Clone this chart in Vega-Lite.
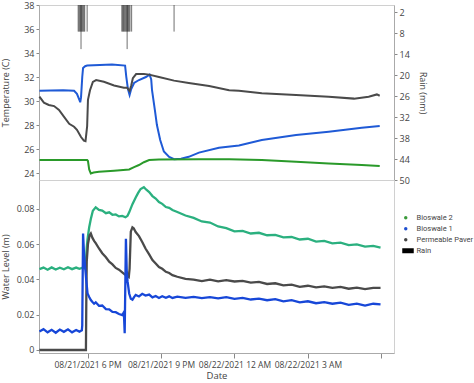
{
"$schema": "https://vega.github.io/schema/vega-lite/v6.json",
"padding": {"left": 0, "top": 0, "right": 0, "bottom": 0},
"background": "white",
"spacing": 0,
"bounds": "flush",
"config": {
  "font": "Open Sans",
  "view": {"stroke": "#d0d0d0"},
  "axis": {"labelFontSize": 9, "labelColor": "#444", "titleFontSize": 9, "titleFontWeight": "normal", "titleColor": "#444", "domainColor": "#aaa", "tickColor": "#888", "grid": false, "tickSize": 3, "labelPadding": 2}
},
"datasets": {
"rain": [
{"t":"2021-08-21T17:37","r":7.6},{"t":"2021-08-21T17:39","r":7.6},{"t":"2021-08-21T17:41","r":7.6},{"t":"2021-08-21T17:43","r":7.6},{"t":"2021-08-21T17:44","r":12.6},{"t":"2021-08-21T17:45","r":7.6},{"t":"2021-08-21T17:47","r":7.6},{"t":"2021-08-21T17:49","r":7.6},{"t":"2021-08-21T17:51","r":7.6},{"t":"2021-08-21T17:53","r":7.6},{"t":"2021-08-21T17:59","r":7.6},
{"t":"2021-08-21T19:24","r":7.6},{"t":"2021-08-21T19:26","r":7.6},{"t":"2021-08-21T19:28","r":7.6},{"t":"2021-08-21T19:30","r":7.6},{"t":"2021-08-21T19:32","r":7.6},{"t":"2021-08-21T19:34","r":7.6},{"t":"2021-08-21T19:36","r":7.6},{"t":"2021-08-21T19:37","r":12.6},{"t":"2021-08-21T19:38","r":7.6},{"t":"2021-08-21T19:40","r":7.6},{"t":"2021-08-21T19:42","r":7.6},{"t":"2021-08-21T19:44","r":7.6},{"t":"2021-08-21T19:48","r":7.6},
{"t":"2021-08-21T21:32","r":7.6}
],
"temp": [
{"t":"2021-08-21T16:02","s":"Bioswale 1","T":30.85},{"t":"2021-08-21T16:30","s":"Bioswale 1","T":30.88},{"t":"2021-08-21T17:00","s":"Bioswale 1","T":30.9},{"t":"2021-08-21T17:27","s":"Bioswale 1","T":30.85},{"t":"2021-08-21T17:34","s":"Bioswale 1","T":30.6},{"t":"2021-08-21T17:40","s":"Bioswale 1","T":30.1},{"t":"2021-08-21T17:42","s":"Bioswale 1","T":29.9},{"t":"2021-08-21T17:44","s":"Bioswale 1","T":30.3},{"t":"2021-08-21T17:47","s":"Bioswale 1","T":32.0},{"t":"2021-08-21T17:49","s":"Bioswale 1","T":32.75},{"t":"2021-08-21T17:54","s":"Bioswale 1","T":32.9},{"t":"2021-08-21T17:59","s":"Bioswale 1","T":32.95},{"t":"2021-08-21T18:30","s":"Bioswale 1","T":33.0},{"t":"2021-08-21T19:00","s":"Bioswale 1","T":33.05},{"t":"2021-08-21T19:32","s":"Bioswale 1","T":32.95},{"t":"2021-08-21T19:35","s":"Bioswale 1","T":32.0},{"t":"2021-08-21T19:39","s":"Bioswale 1","T":31.0},{"t":"2021-08-21T19:43","s":"Bioswale 1","T":30.5},{"t":"2021-08-21T19:47","s":"Bioswale 1","T":31.0},{"t":"2021-08-21T19:54","s":"Bioswale 1","T":31.5},{"t":"2021-08-21T20:06","s":"Bioswale 1","T":31.75},{"t":"2021-08-21T20:23","s":"Bioswale 1","T":32.0},{"t":"2021-08-21T20:32","s":"Bioswale 1","T":32.2},{"t":"2021-08-21T20:36","s":"Bioswale 1","T":31.8},{"t":"2021-08-21T20:38","s":"Bioswale 1","T":30.9},{"t":"2021-08-21T20:45","s":"Bioswale 1","T":29.25},{"t":"2021-08-21T20:50","s":"Bioswale 1","T":28.0},{"t":"2021-08-21T20:58","s":"Bioswale 1","T":26.75},{"t":"2021-08-21T21:07","s":"Bioswale 1","T":25.8},{"t":"2021-08-21T21:20","s":"Bioswale 1","T":25.35},{"t":"2021-08-21T21:32","s":"Bioswale 1","T":25.15},{"t":"2021-08-21T21:49","s":"Bioswale 1","T":25.2},{"t":"2021-08-21T22:08","s":"Bioswale 1","T":25.35},{"t":"2021-08-21T22:33","s":"Bioswale 1","T":25.7},{"t":"2021-08-21T23:22","s":"Bioswale 1","T":26.1},{"t":"2021-08-22T00:11","s":"Bioswale 1","T":26.3},{"t":"2021-08-22T01:07","s":"Bioswale 1","T":26.75},{"t":"2021-08-22T02:31","s":"Bioswale 1","T":27.17},{"t":"2021-08-22T03:51","s":"Bioswale 1","T":27.44},{"t":"2021-08-22T05:12","s":"Bioswale 1","T":27.77},{"t":"2021-08-22T05:56","s":"Bioswale 1","T":27.92},
{"t":"2021-08-21T16:02","s":"Permeable Paver","T":30.36},{"t":"2021-08-21T16:13","s":"Permeable Paver","T":29.86},{"t":"2021-08-21T16:25","s":"Permeable Paver","T":29.67},{"t":"2021-08-21T16:38","s":"Permeable Paver","T":29.58},{"t":"2021-08-21T16:50","s":"Permeable Paver","T":29.25},{"t":"2021-08-21T17:02","s":"Permeable Paver","T":28.7},{"t":"2021-08-21T17:15","s":"Permeable Paver","T":28.1},{"t":"2021-08-21T17:27","s":"Permeable Paver","T":27.86},{"t":"2021-08-21T17:34","s":"Permeable Paver","T":27.6},{"t":"2021-08-21T17:44","s":"Permeable Paver","T":27.0},{"t":"2021-08-21T17:51","s":"Permeable Paver","T":26.7},{"t":"2021-08-21T17:55","s":"Permeable Paver","T":26.65},{"t":"2021-08-21T17:59","s":"Permeable Paver","T":27.9},{"t":"2021-08-21T18:01","s":"Permeable Paver","T":30.1},{"t":"2021-08-21T18:06","s":"Permeable Paver","T":30.9},{"t":"2021-08-21T18:13","s":"Permeable Paver","T":31.6},{"t":"2021-08-21T18:21","s":"Permeable Paver","T":31.75},{"t":"2021-08-21T18:40","s":"Permeable Paver","T":31.6},{"t":"2021-08-21T19:05","s":"Permeable Paver","T":31.3},{"t":"2021-08-21T19:29","s":"Permeable Paver","T":31.1},{"t":"2021-08-21T19:37","s":"Permeable Paver","T":31.1},{"t":"2021-08-21T19:43","s":"Permeable Paver","T":30.85},{"t":"2021-08-21T19:47","s":"Permeable Paver","T":31.3},{"t":"2021-08-21T19:51","s":"Permeable Paver","T":31.9},{"t":"2021-08-21T19:59","s":"Permeable Paver","T":32.25},{"t":"2021-08-21T20:18","s":"Permeable Paver","T":32.25},{"t":"2021-08-21T20:31","s":"Permeable Paver","T":32.2},{"t":"2021-08-21T20:55","s":"Permeable Paver","T":32.0},{"t":"2021-08-21T21:32","s":"Permeable Paver","T":31.7},{"t":"2021-08-21T22:08","s":"Permeable Paver","T":31.5},{"t":"2021-08-21T22:58","s":"Permeable Paver","T":31.25},{"t":"2021-08-21T23:47","s":"Permeable Paver","T":30.9},{"t":"2021-08-22T00:11","s":"Permeable Paver","T":30.86},{"t":"2021-08-22T01:07","s":"Permeable Paver","T":30.64},{"t":"2021-08-22T02:31","s":"Permeable Paver","T":30.5},{"t":"2021-08-22T03:51","s":"Permeable Paver","T":30.36},{"t":"2021-08-22T04:53","s":"Permeable Paver","T":30.2},{"t":"2021-08-22T05:29","s":"Permeable Paver","T":30.36},{"t":"2021-08-22T05:49","s":"Permeable Paver","T":30.55},{"t":"2021-08-22T05:56","s":"Permeable Paver","T":30.44},
{"t":"2021-08-21T16:02","s":"Bioswale 2","T":25.08},{"t":"2021-08-21T17:59","s":"Bioswale 2","T":25.08},{"t":"2021-08-21T18:01","s":"Bioswale 2","T":25.0},{"t":"2021-08-21T18:04","s":"Bioswale 2","T":24.3},{"t":"2021-08-21T18:08","s":"Bioswale 2","T":23.97},{"t":"2021-08-21T18:15","s":"Bioswale 2","T":24.05},{"t":"2021-08-21T18:28","s":"Bioswale 2","T":24.1},{"t":"2021-08-21T19:05","s":"Bioswale 2","T":24.2},{"t":"2021-08-21T19:42","s":"Bioswale 2","T":24.3},{"t":"2021-08-21T19:54","s":"Bioswale 2","T":24.5},{"t":"2021-08-21T20:06","s":"Bioswale 2","T":24.67},{"t":"2021-08-21T20:18","s":"Bioswale 2","T":24.9},{"t":"2021-08-21T20:31","s":"Bioswale 2","T":25.08},{"t":"2021-08-21T20:55","s":"Bioswale 2","T":25.12},{"t":"2021-08-21T22:33","s":"Bioswale 2","T":25.15},{"t":"2021-08-21T23:47","s":"Bioswale 2","T":25.15},{"t":"2021-08-22T01:07","s":"Bioswale 2","T":25.08},{"t":"2021-08-22T02:31","s":"Bioswale 2","T":24.95},{"t":"2021-08-22T03:51","s":"Bioswale 2","T":24.8},{"t":"2021-08-22T05:12","s":"Bioswale 2","T":24.67},{"t":"2021-08-22T05:56","s":"Bioswale 2","T":24.58}
],
"wl": [
{"t":"2021-08-21T16:02","s":"Bioswale 2","W":0.0458},{"t":"2021-08-21T16:12","s":"Bioswale 2","W":0.0467},{"t":"2021-08-21T16:22","s":"Bioswale 2","W":0.0455},{"t":"2021-08-21T16:32","s":"Bioswale 2","W":0.0468},{"t":"2021-08-21T16:42","s":"Bioswale 2","W":0.0456},{"t":"2021-08-21T16:52","s":"Bioswale 2","W":0.0466},{"t":"2021-08-21T17:02","s":"Bioswale 2","W":0.0457},{"t":"2021-08-21T17:12","s":"Bioswale 2","W":0.0469},{"t":"2021-08-21T17:22","s":"Bioswale 2","W":0.0458},{"t":"2021-08-21T17:32","s":"Bioswale 2","W":0.0467},{"t":"2021-08-21T17:40","s":"Bioswale 2","W":0.046},{"t":"2021-08-21T17:48","s":"Bioswale 2","W":0.0466},{"t":"2021-08-21T17:54","s":"Bioswale 2","W":0.0462},{"t":"2021-08-21T17:56","s":"Bioswale 2","W":0.05},{"t":"2021-08-21T17:58","s":"Bioswale 2","W":0.058},{"t":"2021-08-21T18:00","s":"Bioswale 2","W":0.063},{"t":"2021-08-21T18:04","s":"Bioswale 2","W":0.0695},{"t":"2021-08-21T18:08","s":"Bioswale 2","W":0.0742},{"t":"2021-08-21T18:13","s":"Bioswale 2","W":0.0789},{"t":"2021-08-21T18:20","s":"Bioswale 2","W":0.0808},{"t":"2021-08-21T18:28","s":"Bioswale 2","W":0.0794},{"t":"2021-08-21T18:36","s":"Bioswale 2","W":0.079},{"t":"2021-08-21T18:45","s":"Bioswale 2","W":0.0775},{"t":"2021-08-21T18:53","s":"Bioswale 2","W":0.078},{"t":"2021-08-21T19:01","s":"Bioswale 2","W":0.0766},{"t":"2021-08-21T19:09","s":"Bioswale 2","W":0.0768},{"t":"2021-08-21T19:17","s":"Bioswale 2","W":0.0757},{"t":"2021-08-21T19:25","s":"Bioswale 2","W":0.076},{"t":"2021-08-21T19:33","s":"Bioswale 2","W":0.0752},{"t":"2021-08-21T19:38","s":"Bioswale 2","W":0.076},{"t":"2021-08-21T19:42","s":"Bioswale 2","W":0.078},{"t":"2021-08-21T19:50","s":"Bioswale 2","W":0.0826},{"t":"2021-08-21T19:58","s":"Bioswale 2","W":0.0864},{"t":"2021-08-21T20:04","s":"Bioswale 2","W":0.089},{"t":"2021-08-21T20:10","s":"Bioswale 2","W":0.0912},{"t":"2021-08-21T20:18","s":"Bioswale 2","W":0.0922},{"t":"2021-08-21T20:24","s":"Bioswale 2","W":0.0908},{"t":"2021-08-21T20:31","s":"Bioswale 2","W":0.0895},{"t":"2021-08-21T20:39","s":"Bioswale 2","W":0.0872},{"t":"2021-08-21T20:47","s":"Bioswale 2","W":0.0858},{"t":"2021-08-21T20:55","s":"Bioswale 2","W":0.0838},{"t":"2021-08-21T21:03","s":"Bioswale 2","W":0.0828},{"t":"2021-08-21T21:12","s":"Bioswale 2","W":0.081},{"t":"2021-08-21T21:20","s":"Bioswale 2","W":0.0805},{"t":"2021-08-21T21:28","s":"Bioswale 2","W":0.0793},{"t":"2021-08-21T21:40","s":"Bioswale 2","W":0.0782},{"t":"2021-08-21T22:00","s":"Bioswale 2","W":0.0762},{"t":"2021-08-21T22:20","s":"Bioswale 2","W":0.0748},{"t":"2021-08-21T22:40","s":"Bioswale 2","W":0.0728},{"t":"2021-08-21T23:00","s":"Bioswale 2","W":0.0722},{"t":"2021-08-21T23:20","s":"Bioswale 2","W":0.07},{"t":"2021-08-21T23:40","s":"Bioswale 2","W":0.069},{"t":"2021-08-22T00:00","s":"Bioswale 2","W":0.0672},{"t":"2021-08-22T00:20","s":"Bioswale 2","W":0.0675},{"t":"2021-08-22T00:40","s":"Bioswale 2","W":0.066},{"t":"2021-08-22T01:00","s":"Bioswale 2","W":0.0664},{"t":"2021-08-22T01:20","s":"Bioswale 2","W":0.065},{"t":"2021-08-22T01:40","s":"Bioswale 2","W":0.0652},{"t":"2021-08-22T02:00","s":"Bioswale 2","W":0.0638},{"t":"2021-08-22T02:20","s":"Bioswale 2","W":0.064},{"t":"2021-08-22T02:40","s":"Bioswale 2","W":0.0626},{"t":"2021-08-22T03:00","s":"Bioswale 2","W":0.063},{"t":"2021-08-22T03:20","s":"Bioswale 2","W":0.0614},{"t":"2021-08-22T03:40","s":"Bioswale 2","W":0.0618},{"t":"2021-08-22T04:00","s":"Bioswale 2","W":0.0604},{"t":"2021-08-22T04:20","s":"Bioswale 2","W":0.0608},{"t":"2021-08-22T04:40","s":"Bioswale 2","W":0.0594},{"t":"2021-08-22T05:00","s":"Bioswale 2","W":0.0598},{"t":"2021-08-22T05:20","s":"Bioswale 2","W":0.0586},{"t":"2021-08-22T05:40","s":"Bioswale 2","W":0.059},{"t":"2021-08-22T05:58","s":"Bioswale 2","W":0.058},
{"t":"2021-08-21T16:02","s":"Permeable Paver","W":0.0},{"t":"2021-08-21T17:56","s":"Permeable Paver","W":0.0},{"t":"2021-08-21T17:57","s":"Permeable Paver","W":0.03},{"t":"2021-08-21T17:58","s":"Permeable Paver","W":0.05},{"t":"2021-08-21T18:01","s":"Permeable Paver","W":0.06},{"t":"2021-08-21T18:05","s":"Permeable Paver","W":0.065},{"t":"2021-08-21T18:08","s":"Permeable Paver","W":0.066},{"t":"2021-08-21T18:12","s":"Permeable Paver","W":0.0635},{"t":"2021-08-21T18:16","s":"Permeable Paver","W":0.0618},{"t":"2021-08-21T18:20","s":"Permeable Paver","W":0.0605},{"t":"2021-08-21T18:28","s":"Permeable Paver","W":0.0575},{"t":"2021-08-21T18:36","s":"Permeable Paver","W":0.0548},{"t":"2021-08-21T18:45","s":"Permeable Paver","W":0.0525},{"t":"2021-08-21T18:53","s":"Permeable Paver","W":0.05},{"t":"2021-08-21T19:01","s":"Permeable Paver","W":0.0485},{"t":"2021-08-21T19:09","s":"Permeable Paver","W":0.0465},{"t":"2021-08-21T19:17","s":"Permeable Paver","W":0.0455},{"t":"2021-08-21T19:25","s":"Permeable Paver","W":0.044},{"t":"2021-08-21T19:31","s":"Permeable Paver","W":0.0428},{"t":"2021-08-21T19:37","s":"Permeable Paver","W":0.0418},{"t":"2021-08-21T19:41","s":"Permeable Paver","W":0.0413},{"t":"2021-08-21T19:43","s":"Permeable Paver","W":0.046},{"t":"2021-08-21T19:46","s":"Permeable Paver","W":0.067},{"t":"2021-08-21T19:50","s":"Permeable Paver","W":0.0695},{"t":"2021-08-21T19:53","s":"Permeable Paver","W":0.069},{"t":"2021-08-21T19:58","s":"Permeable Paver","W":0.0668},{"t":"2021-08-21T20:06","s":"Permeable Paver","W":0.0645},{"t":"2021-08-21T20:14","s":"Permeable Paver","W":0.0612},{"t":"2021-08-21T20:22","s":"Permeable Paver","W":0.0575},{"t":"2021-08-21T20:31","s":"Permeable Paver","W":0.0542},{"t":"2021-08-21T20:39","s":"Permeable Paver","W":0.051},{"t":"2021-08-21T20:47","s":"Permeable Paver","W":0.049},{"t":"2021-08-21T20:55","s":"Permeable Paver","W":0.047},{"t":"2021-08-21T21:03","s":"Permeable Paver","W":0.046},{"t":"2021-08-21T21:12","s":"Permeable Paver","W":0.0443},{"t":"2021-08-21T21:20","s":"Permeable Paver","W":0.0436},{"t":"2021-08-21T21:28","s":"Permeable Paver","W":0.0424},{"t":"2021-08-21T21:40","s":"Permeable Paver","W":0.0415},{"t":"2021-08-21T22:00","s":"Permeable Paver","W":0.0403},{"t":"2021-08-21T22:20","s":"Permeable Paver","W":0.0399},{"t":"2021-08-21T22:40","s":"Permeable Paver","W":0.039},{"t":"2021-08-21T23:00","s":"Permeable Paver","W":0.0398},{"t":"2021-08-21T23:20","s":"Permeable Paver","W":0.0389},{"t":"2021-08-21T23:40","s":"Permeable Paver","W":0.0396},{"t":"2021-08-22T00:00","s":"Permeable Paver","W":0.0388},{"t":"2021-08-22T00:20","s":"Permeable Paver","W":0.0392},{"t":"2021-08-22T00:40","s":"Permeable Paver","W":0.0382},{"t":"2021-08-22T01:00","s":"Permeable Paver","W":0.0386},{"t":"2021-08-22T01:20","s":"Permeable Paver","W":0.0374},{"t":"2021-08-22T01:40","s":"Permeable Paver","W":0.0378},{"t":"2021-08-22T02:00","s":"Permeable Paver","W":0.0366},{"t":"2021-08-22T02:20","s":"Permeable Paver","W":0.037},{"t":"2021-08-22T02:40","s":"Permeable Paver","W":0.0358},{"t":"2021-08-22T03:00","s":"Permeable Paver","W":0.0364},{"t":"2021-08-22T03:20","s":"Permeable Paver","W":0.0355},{"t":"2021-08-22T03:40","s":"Permeable Paver","W":0.036},{"t":"2021-08-22T04:00","s":"Permeable Paver","W":0.0352},{"t":"2021-08-22T04:20","s":"Permeable Paver","W":0.0358},{"t":"2021-08-22T04:40","s":"Permeable Paver","W":0.0347},{"t":"2021-08-22T05:00","s":"Permeable Paver","W":0.0353},{"t":"2021-08-22T05:20","s":"Permeable Paver","W":0.0345},{"t":"2021-08-22T05:40","s":"Permeable Paver","W":0.0352},{"t":"2021-08-22T05:58","s":"Permeable Paver","W":0.0352},
{"t":"2021-08-21T16:02","s":"Bioswale 1","W":0.0105},{"t":"2021-08-21T16:12","s":"Bioswale 1","W":0.0118},{"t":"2021-08-21T16:22","s":"Bioswale 1","W":0.01},{"t":"2021-08-21T16:32","s":"Bioswale 1","W":0.0114},{"t":"2021-08-21T16:42","s":"Bioswale 1","W":0.0098},{"t":"2021-08-21T16:52","s":"Bioswale 1","W":0.0116},{"t":"2021-08-21T17:02","s":"Bioswale 1","W":0.0103},{"t":"2021-08-21T17:12","s":"Bioswale 1","W":0.0117},{"t":"2021-08-21T17:22","s":"Bioswale 1","W":0.01},{"t":"2021-08-21T17:32","s":"Bioswale 1","W":0.0113},{"t":"2021-08-21T17:40","s":"Bioswale 1","W":0.0104},{"t":"2021-08-21T17:46","s":"Bioswale 1","W":0.0112},{"t":"2021-08-21T17:47","s":"Bioswale 1","W":0.014},{"t":"2021-08-21T17:49","s":"Bioswale 1","W":0.066},{"t":"2021-08-21T17:51","s":"Bioswale 1","W":0.056},{"t":"2021-08-21T17:54","s":"Bioswale 1","W":0.047},{"t":"2021-08-21T17:57","s":"Bioswale 1","W":0.039},{"t":"2021-08-21T18:00","s":"Bioswale 1","W":0.032},{"t":"2021-08-21T18:04","s":"Bioswale 1","W":0.03},{"t":"2021-08-21T18:08","s":"Bioswale 1","W":0.0283},{"t":"2021-08-21T18:12","s":"Bioswale 1","W":0.0272},{"t":"2021-08-21T18:16","s":"Bioswale 1","W":0.0262},{"t":"2021-08-21T18:20","s":"Bioswale 1","W":0.027},{"t":"2021-08-21T18:28","s":"Bioswale 1","W":0.025},{"t":"2021-08-21T18:36","s":"Bioswale 1","W":0.0252},{"t":"2021-08-21T18:45","s":"Bioswale 1","W":0.0232},{"t":"2021-08-21T18:53","s":"Bioswale 1","W":0.023},{"t":"2021-08-21T19:01","s":"Bioswale 1","W":0.0216},{"t":"2021-08-21T19:09","s":"Bioswale 1","W":0.0214},{"t":"2021-08-21T19:17","s":"Bioswale 1","W":0.0204},{"t":"2021-08-21T19:25","s":"Bioswale 1","W":0.0198},{"t":"2021-08-21T19:29","s":"Bioswale 1","W":0.0214},{"t":"2021-08-21T19:31","s":"Bioswale 1","W":0.0095},{"t":"2021-08-21T19:34","s":"Bioswale 1","W":0.063},{"t":"2021-08-21T19:36","s":"Bioswale 1","W":0.045},{"t":"2021-08-21T19:38","s":"Bioswale 1","W":0.039},{"t":"2021-08-21T19:42","s":"Bioswale 1","W":0.032},{"t":"2021-08-21T19:46","s":"Bioswale 1","W":0.029},{"t":"2021-08-21T19:50","s":"Bioswale 1","W":0.0285},{"t":"2021-08-21T19:54","s":"Bioswale 1","W":0.03},{"t":"2021-08-21T19:58","s":"Bioswale 1","W":0.0312},{"t":"2021-08-21T20:06","s":"Bioswale 1","W":0.0303},{"t":"2021-08-21T20:14","s":"Bioswale 1","W":0.0318},{"t":"2021-08-21T20:22","s":"Bioswale 1","W":0.0308},{"t":"2021-08-21T20:31","s":"Bioswale 1","W":0.0314},{"t":"2021-08-21T20:39","s":"Bioswale 1","W":0.0298},{"t":"2021-08-21T20:47","s":"Bioswale 1","W":0.0306},{"t":"2021-08-21T20:55","s":"Bioswale 1","W":0.0295},{"t":"2021-08-21T21:03","s":"Bioswale 1","W":0.0305},{"t":"2021-08-21T21:12","s":"Bioswale 1","W":0.0296},{"t":"2021-08-21T21:20","s":"Bioswale 1","W":0.0304},{"t":"2021-08-21T21:28","s":"Bioswale 1","W":0.0295},{"t":"2021-08-21T21:40","s":"Bioswale 1","W":0.0302},{"t":"2021-08-21T22:00","s":"Bioswale 1","W":0.0295},{"t":"2021-08-21T22:20","s":"Bioswale 1","W":0.0301},{"t":"2021-08-21T22:40","s":"Bioswale 1","W":0.0294},{"t":"2021-08-21T23:00","s":"Bioswale 1","W":0.03},{"t":"2021-08-21T23:20","s":"Bioswale 1","W":0.0293},{"t":"2021-08-21T23:40","s":"Bioswale 1","W":0.0299},{"t":"2021-08-22T00:00","s":"Bioswale 1","W":0.029},{"t":"2021-08-22T00:20","s":"Bioswale 1","W":0.0295},{"t":"2021-08-22T00:40","s":"Bioswale 1","W":0.0286},{"t":"2021-08-22T01:00","s":"Bioswale 1","W":0.0291},{"t":"2021-08-22T01:20","s":"Bioswale 1","W":0.0282},{"t":"2021-08-22T01:40","s":"Bioswale 1","W":0.0288},{"t":"2021-08-22T02:00","s":"Bioswale 1","W":0.0276},{"t":"2021-08-22T02:20","s":"Bioswale 1","W":0.0282},{"t":"2021-08-22T02:40","s":"Bioswale 1","W":0.027},{"t":"2021-08-22T03:00","s":"Bioswale 1","W":0.0276},{"t":"2021-08-22T03:20","s":"Bioswale 1","W":0.0265},{"t":"2021-08-22T03:40","s":"Bioswale 1","W":0.0271},{"t":"2021-08-22T04:00","s":"Bioswale 1","W":0.0262},{"t":"2021-08-22T04:20","s":"Bioswale 1","W":0.0268},{"t":"2021-08-22T04:40","s":"Bioswale 1","W":0.0256},{"t":"2021-08-22T05:00","s":"Bioswale 1","W":0.0263},{"t":"2021-08-22T05:20","s":"Bioswale 1","W":0.0252},{"t":"2021-08-22T05:40","s":"Bioswale 1","W":0.0262},{"t":"2021-08-22T05:58","s":"Bioswale 1","W":0.0258}
]
},
"resolve": {"scale": {"color": "independent", "y": "independent"}},
"vconcat": [
{
  "width": 355, "height": 175,
  "layer": [
    {"data": {"name": "rain"},
     "mark": {"type": "rule", "color": "#333", "opacity": 0.7, "strokeWidth": 1},
     "encoding": {
       "x": {"field": "t", "type": "temporal", "axis": null,
             "scale": {"domain": [{"year": 2021, "month": 8, "date": 21, "hours": 16, "minutes": 1}, {"year": 2021, "month": 8, "date": 22, "hours": 6, "minutes": 31}]}},
       "y": {"field": "r", "type": "quantitative",
             "scale": {"domain": [0, 50], "reverse": true, "nice": false, "zero": false},
             "axis": {"orient": "right", "title": "Rain (mm)", "values": [2, 8, 14, 20, 26, 32, 38, 44, 50], "titlePadding": 8}},
       "y2": {"datum": 0}
     }},
    {"data": {"name": "temp"},
     "mark": {"type": "line", "strokeWidth": 2},
     "encoding": {
       "x": {"field": "t", "type": "temporal", "axis": null,
             "scale": {"domain": [{"year": 2021, "month": 8, "date": 21, "hours": 16, "minutes": 1}, {"year": 2021, "month": 8, "date": 22, "hours": 6, "minutes": 31}]}},
       "y": {"field": "T", "type": "quantitative",
             "scale": {"domain": [23.42, 38], "nice": false, "zero": false},
             "axis": {"title": "Temperature (C)", "values": [24, 26, 28, 30, 32, 34, 36, 38], "titleX": -29}},
       "color": {"field": "s", "type": "nominal", "legend": null,
                 "scale": {"domain": ["Bioswale 2", "Bioswale 1", "Permeable Paver"], "range": ["#2a9a2a", "#1f5ad6", "#4a4a4a"]}}
     }}
  ],
  "resolve": {"scale": {"y": "independent"}}
},
{
  "width": 355, "height": 173,
  "data": {"name": "wl"},
  "mark": {"type": "line", "strokeWidth": 2.3},
  "encoding": {
    "x": {"field": "t", "type": "temporal", "title": "Date",
          "scale": {"domain": [{"year": 2021, "month": 8, "date": 21, "hours": 16, "minutes": 1}, {"year": 2021, "month": 8, "date": 22, "hours": 6, "minutes": 31}]},
          "axis": {"values": [{"year": 2021, "month": 8, "date": 21, "hours": 18}, {"year": 2021, "month": 8, "date": 21, "hours": 21}, {"year": 2021, "month": 8, "date": 22, "hours": 0}, {"year": 2021, "month": 8, "date": 22, "hours": 3}, {"year": 2021, "month": 8, "date": 22, "hours": 6}],
                   "format": "%m/%d/%Y %-I %p", "labelExpr": "hours(datum.value) == 6 ? '' : datum.label",
                   "labelOverlap": false, "labelFontSize": 8.5, "tickSize": 5, "labelPadding": 2, "titlePadding": 2, "titleFontSize": 9.5}},
    "y": {"field": "W", "type": "quantitative", "title": "Water Level (m)",
          "scale": {"domain": [-0.0017, 0.0963], "nice": false, "zero": false},
          "axis": {"values": [0, 0.02, 0.04, 0.06, 0.08], "format": "~g", "titleX": -29}},
    "color": {"field": "s", "type": "nominal",
              "scale": {"domain": ["Bioswale 2", "Bioswale 1", "Permeable Paver", "Rain"], "range": ["#2bb07f", "#1747d8", "#4a4a4a", "#000000"]},
              "legend": {"title": null, "orient": "none", "legendX": 363, "legendY": 34, "symbolType": "circle", "labelFont": "Roboto", "labelFontSize": 7.5, "labelColor": "#444", "rowPadding": 2, "symbolSize": 12, "labelOffset": 7,
                         "encode": {"symbols": {"update": {
                           "shape": {"signal": "datum.value === 'Rain' ? 'M-0.7,-0.5H1.6V0.5H-0.7Z' : 'circle'"},
                           "size": {"signal": "datum.value === 'Rain' ? 100 : 12"},
                           "fill": {"signal": "datum.value === 'Rain' ? '#000000' : datum.value === 'Bioswale 2' ? '#3a9a3a' : datum.value === 'Bioswale 1' ? '#1f4fd0' : '#444444'"},
                           "strokeWidth": {"value": 0}}}}}}
  }
}
]
}
